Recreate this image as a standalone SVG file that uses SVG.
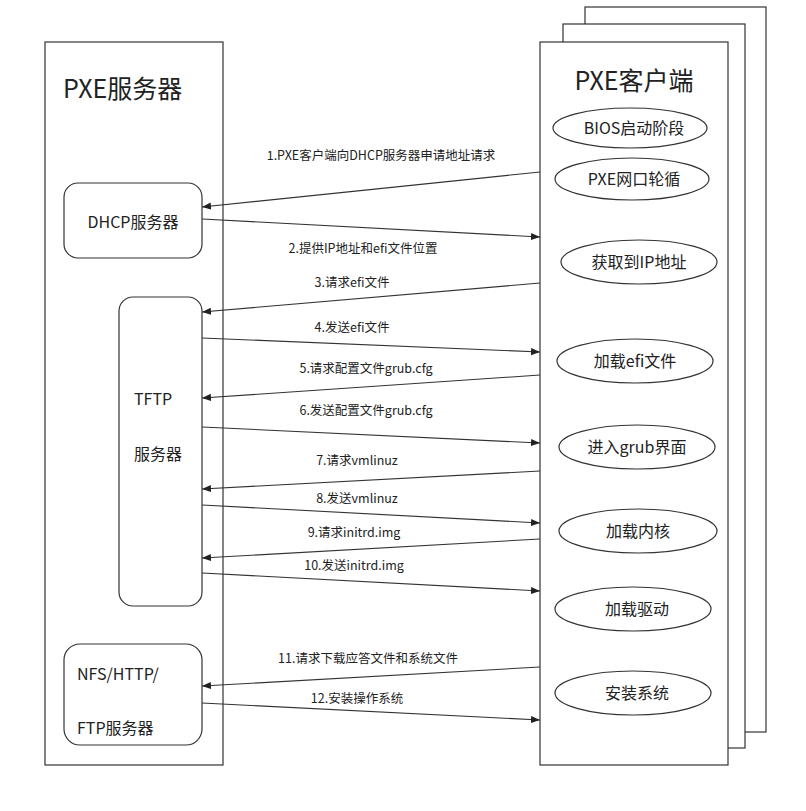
<svg xmlns="http://www.w3.org/2000/svg" width="806" height="811" viewBox="0 0 806 811">
<style>
text{font-family:"Noto Sans CJK SC","Liberation Sans",sans-serif;fill:#222}
.b{fill:#fff;stroke:#333;stroke-width:1.2}
.t{font-size:25px}
.n{font-size:16px}
.l{font-size:12.5px;text-anchor:middle}
.c{text-anchor:middle}
.a{stroke:#333;stroke-width:1.1;fill:none;marker-end:url(#ah)}
</style>
<defs><marker id="ah" viewBox="0 0 10 10" refX="10" refY="5" markerWidth="9" markerHeight="9" markerUnits="userSpaceOnUse" orient="auto"><path d="M0,1L10,5L0,9z" fill="#222"/></marker></defs>
<rect x="0" y="0" width="806" height="811" fill="#fff"/>
<g id="server">
<rect class="b" x="45" y="42" width="178" height="723"/>
<text class="t" x="63" y="98">PXE服务器</text>
</g>
<g id="client">
<rect class="b" x="585" y="7" width="181" height="725"/>
<rect class="b" x="563" y="24" width="182" height="724"/>
<rect class="b" x="540" y="42" width="188" height="723"/>
<text class="t c" x="634" y="90">PXE客户端</text>
</g>
<g id="dhcp"><rect class="b" x="64" y="183" width="138" height="75" rx="14"/><text class="n c" x="133" y="228">DHCP服务器</text></g>
<g id="tftp"><rect class="b" x="119" y="297" width="83" height="309" rx="14"/><text class="n" x="134" y="405">TFTP</text><text class="n" x="134" y="460">服务器</text></g>
<g id="nfs"><rect class="b" x="64" y="644" width="138" height="101" rx="16"/><text class="n" x="77" y="680">NFS/HTTP/</text><text class="n" x="77" y="734">FTP服务器</text></g>
<g id="s1"><ellipse class="b" cx="630" cy="128" rx="77" ry="20"/><text class="n c" x="634" y="134">BIOS启动阶段</text></g>
<g id="s2"><ellipse class="b" cx="632" cy="179" rx="77" ry="21"/><text class="n c" x="634" y="185">PXE网口轮循</text></g>
<g id="s3"><ellipse class="b" cx="639" cy="262" rx="78" ry="22"/><text class="n c" x="639" y="268">获取到IP地址</text></g>
<g id="s4"><ellipse class="b" cx="635" cy="361" rx="78" ry="22"/><text class="n c" x="635" y="367">加载efi文件</text></g>
<g id="s5"><ellipse class="b" cx="637" cy="447" rx="78" ry="22"/><text class="n c" x="637" y="453">进入grub界面</text></g>
<g id="s6"><ellipse class="b" cx="638" cy="531" rx="79" ry="22"/><text class="n c" x="638" y="537">加载内核</text></g>
<g id="s7"><ellipse class="b" cx="633" cy="609" rx="78" ry="22"/><text class="n c" x="637" y="615">加载驱动</text></g>
<g id="s8"><ellipse class="b" cx="633" cy="693" rx="78" ry="22"/><text class="n c" x="637" y="699">安装系统</text></g>
<g id="connectors">
<path class="a" d="M540,172L202,207"/>
<path class="a" d="M202,219L540,237"/>
<path class="a" d="M540,283L202,312"/>
<path class="a" d="M202,338L540,352"/>
<path class="a" d="M540,375L202,398"/>
<path class="a" d="M202,427L540,443"/>
<path class="a" d="M540,471L202,489"/>
<path class="a" d="M202,505L540,523"/>
<path class="a" d="M540,539L202,558"/>
<path class="a" d="M202,573L540,591"/>
<path class="a" d="M540,667L202,686"/>
<path class="a" d="M202,703L540,720"/>
<text class="l" x="381" y="160">1.PXE客户端向DHCP服务器申请地址请求</text>
<text class="l" x="363" y="253">2.提供IP地址和efi文件位置</text>
<text class="l" x="352" y="287">3.请求efi文件</text>
<text class="l" x="352" y="332">4.发送efi文件</text>
<text class="l" x="366" y="373">5.请求配置文件grub.cfg</text>
<text class="l" x="366" y="415">6.发送配置文件grub.cfg</text>
<text class="l" x="357" y="465">7.请求vmlinuz</text>
<text class="l" x="357" y="503">8.发送vmlinuz</text>
<text class="l" x="354" y="537">9.请求initrd.img</text>
<text class="l" x="354" y="570">10.发送initrd.img</text>
<text class="l" x="368" y="663">11.请求下载应答文件和系统文件</text>
<text class="l" x="357" y="703">12.安装操作系统</text>
</g>
</svg>
